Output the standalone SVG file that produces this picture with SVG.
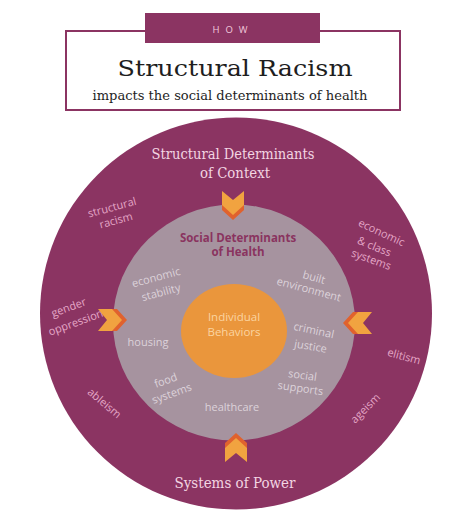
<svg xmlns="http://www.w3.org/2000/svg" width="474" height="527" viewBox="0 0 474 527">
<style>
.title{font-family:"DejaVu Serif","Liberation Serif",serif;fill:#1e1e1e}
.ring{font-family:"DejaVu Serif","Liberation Serif",serif;fill:#f3d6e3;font-size:14px;text-anchor:middle}
.outer{font-family:"Open Sans","Noto Sans",sans-serif;fill:#e4a6c6;font-size:11px;text-anchor:middle}
.inner{font-family:"Open Sans","Noto Sans",sans-serif;fill:#dcd2da;font-size:11px;text-anchor:middle}
.sdh{font-family:"Open Sans","Noto Sans",sans-serif;fill:#8a345f;font-size:11.5px;font-weight:bold;text-anchor:middle}
.ib{font-family:"Open Sans","Noto Sans",sans-serif;fill:#fbd4a0;font-size:11.5px;text-anchor:middle}
.light{fill:#f1a340}
.dark{fill:#e0622e}
</style>
<defs>
<polygon id="chev" points="-11,-12 0,-3 11,-12 11,2 0,12 -11,2"/>
</defs>
<rect width="474" height="527" fill="#ffffff"/>

<g id="title">
<rect x="66" y="31" width="334" height="79" fill="#ffffff" stroke="#8b3462" stroke-width="2"/>
<rect x="145" y="13" width="175" height="30" fill="#8b3462"/>
<text x="233" y="33" font-family="'Open Sans','Noto Sans',sans-serif" font-size="9.5" fill="#f2c9dc" text-anchor="middle" letter-spacing="6">HOW</text>
<text class="title" x="235" y="76" font-size="23" text-anchor="middle" textLength="235" lengthAdjust="spacingAndGlyphs">Structural Racism</text>
<text class="title" x="230" y="100" font-size="12.5" text-anchor="middle" textLength="275" lengthAdjust="spacingAndGlyphs">impacts the social determinants of health</text>
</g>

<g id="structural-determinants">
<circle cx="236" cy="313.5" r="196" fill="#8b3462"/>
<text class="ring" x="233" y="159" textLength="163" lengthAdjust="spacingAndGlyphs">Structural Determinants</text>
<text class="ring" x="235" y="178" textLength="70" lengthAdjust="spacingAndGlyphs">of Context</text>
<text class="ring" x="235" y="488" textLength="121" lengthAdjust="spacingAndGlyphs">Systems of Power</text>
<text class="outer" transform="translate(113,211) rotate(-15)">structural</text>
<text class="outer" transform="translate(117,224) rotate(-15)">racism</text>
<text class="outer" transform="translate(380,236) rotate(25)">economic</text>
<text class="outer" transform="translate(373,250) rotate(22)">&amp; class</text>
<text class="outer" transform="translate(370,263) rotate(20)">systems</text>
<text class="outer" transform="translate(70,311) rotate(-20)">gender</text>
<text class="outer" transform="translate(77,326) rotate(-20)">oppression</text>
<text class="outer" transform="translate(403,360) rotate(15)">elitism</text>
<text class="outer" transform="translate(102,406) rotate(40)">ableism</text>
<text class="outer" transform="translate(368,411) rotate(-45)">ageism</text>
</g>

<g id="social-determinants">
<ellipse cx="234" cy="322.5" rx="121" ry="118" fill="#a6939f"/>
<text class="sdh" x="238" y="242">Social Determinants</text>
<text class="sdh" x="238" y="256">of Health</text>
<text class="inner" transform="translate(157,281) rotate(-15)">economic</text>
<text class="inner" transform="translate(162,296) rotate(-15)">stability</text>
<text class="inner" transform="translate(313,281) rotate(15)">built</text>
<text class="inner" transform="translate(308,293) rotate(15)">environment</text>
<text class="inner" transform="translate(313,334) rotate(12)">criminal</text>
<text class="inner" transform="translate(310,350) rotate(10)">justice</text>
<text class="inner" transform="translate(302,379) rotate(8)">social</text>
<text class="inner" transform="translate(300,392) rotate(8)">supports</text>
<text class="inner" x="232" y="411">healthcare</text>
<text class="inner" transform="translate(167,384) rotate(-20)">food</text>
<text class="inner" transform="translate(173,397) rotate(-20)">systems</text>
<text class="inner" x="148" y="346">housing</text>
</g>

<g id="individual-behaviors">
<ellipse cx="234" cy="331" rx="53" ry="47" fill="#ea963c"/>
<text class="ib" x="234" y="321">Individual</text>
<text class="ib" x="234" y="336">Behaviors</text>
</g>

<g id="connectors">
<g transform="translate(233,203)">
<use href="#chev" class="dark" y="5"/>
<use href="#chev" class="light"/>
</g>
<g transform="translate(236,450) rotate(180)">
<use href="#chev" class="dark" y="5"/>
<use href="#chev" class="light"/>
</g>
<g transform="translate(110,320) rotate(-90)">
<use href="#chev" class="dark" y="5"/>
<use href="#chev" class="light"/>
</g>
<g transform="translate(360,323) rotate(90)">
<use href="#chev" class="dark" y="5"/>
<use href="#chev" class="light"/>
</g>
</g>
</svg>
